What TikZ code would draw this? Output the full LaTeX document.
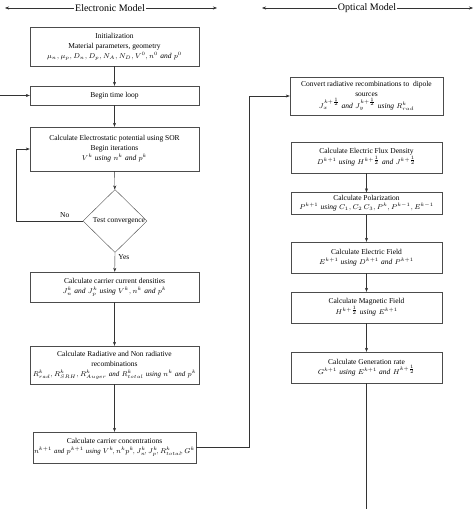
\documentclass[tikz,border=0pt]{standalone}
\usepackage{fontspec}
\setmainfont{Liberation Serif}
\usetikzlibrary{shapes.geometric,arrows.meta}

\newcommand{\mw}[1]{\;\mathit{#1}\;}

\tikzset{
  box/.style={draw=black!70, minimum height=31pt, align=center, inner sep=1pt,
    font=\fontsize{7.5}{10}\selectfont},
  elbox/.style={box, minimum width=169pt},
  opbox/.style={box, minimum width=151pt},
  line/.style={draw=black!80, -{Stealth[length=4pt,width=3pt]}},
  head/.style={font=\fontsize{10}{12}\selectfont, fill=white, inner sep=1pt}
}

\begin{document}
\begin{tikzpicture}[x=1pt,y=1pt]
            \useasboundingbox (0,0) rectangle (474,509);

            % Headers
            \node[head] (elhead) at (110,501) {Electronic Model};
            \node[head] (ophead) at (367,501) {Optical Model};
            \coordinate (elL) at (5,501);
            \coordinate (elR) at (217,501);
            \coordinate (opL) at (262,501);
            \coordinate (opR) at (473,501);
            \draw[line] (elhead.west) -- (elL);
            \draw[line] (elhead.east) -- (elR);
            \draw[line] (ophead.west) -- (opL);
            \draw[line] (ophead.east) -- (opR);

            % Electronic model
            \node[elbox, minimum height=39pt] (init) at (114.5,462.5)
                {Initialization\\Material parameters, geometry\\
                 $\mu_n, \mu_p, D_n, D_p, N_A, N_D, V^0, n^0\mw{and}p^0$};
            \node[elbox, minimum height=19pt] (loop) at (114.5,413.5) {Begin time loop};
            \node[elbox, minimum height=44pt] (sor) at (114.5,360)
                {Calculate Electrostatic potential using SOR\\Begin iterations\\
                 $V^k\mw{using}n^k\mw{and}p^k$};
            \node[draw=black!70, diamond, minimum width=64pt, minimum height=63pt,
                  inner sep=0pt] (conv) at (115,288) {};
            \node[font=\fontsize{7.5}{9.5}\selectfont] (convtxt) at (119,288) {Test convergence};
            \node[elbox, minimum height=30pt] (curr) at (114.5,222)
                {Calculate carrier current densities\\
                 $J_n^k\mw{and}J_p^k\mw{using}V^k, n^k\mw{and}p^k$};
            \node[elbox, minimum height=38pt] (rec) at (114.5,144)
                {Calculate Radiative and Non radiative\\recombinations\\
                 \fontsize{7}{9}\selectfont
                 $R_{rad}^k, R_{SRH}^k, R_{Auger}^k\mw{and}R_{total}^k\mw{using}n^k\mw{and}p^k$};
            \node[box, minimum width=163pt] (conc) at (114.5,61.5)
                {Calculate carrier concentrations\\
                 \fontsize{6.8}{9}\selectfont
                 $n^{k+1}\mw{and}p^{k+1}\mw{using}V^k\!, n^k p^k\!, J_n^k\!, J_p^k\!, R_{total}^k\!, G^k$};

            \coordinate (tin) at (0,413.5);
            \coordinate (back) at (16,288);
            \coordinate (bus) at (249,61.5);

            \draw[line] (init) -- (loop);
            \draw[line] (tin) -- (loop);
            \draw[line] (loop) -- (sor);
            \draw[line] (sor) -- (conv);
            \draw[line] (conv.west) -- node[pos=0.27, above, font=\fontsize{7.5}{9}\selectfont] {No}
                (back) |- (sor.west);
            \draw[line] (conv.south) -- node[pos=0.25, right, font=\fontsize{7.5}{9}\selectfont] {Yes}
                (curr);
            \draw[line] (curr) -- (rec);
            \draw[line] (rec) -- (conc);

            % Optical model
            \node[box, minimum width=153pt, minimum height=38pt] (dip) at (366.5,413)
                {Convert radiative recombinations to\ \ dipole\\sources\\
                 $J_x^{k+\frac12}\mw{and}J_y^{k+\frac12}\mw{using}R_{rad}^k$};
            \node[opbox] (flux) at (366.5,351.5)
                {Calculate Electric Flux Density\\
                 $D^{k+1}\mw{using}H^{k+\frac12}\mw{and}J^{k+\frac12}$};
            \node[opbox, minimum height=22pt, font=\fontsize{7.5}{9}\selectfont] (pol) at (366.5,305.5)
                {Calculate Polarization\\
                 $P^{k+1}\mw{using}C_1, C_2\,C_3, P^k, P^{k-1}, E^{k-1}$};
            \node[opbox] (efield) at (366.5,251.5)
                {Calculate Electric Field\\
                 $E^{k+1}\mw{using}D^{k+1}\mw{and}P^{k+1}$};
            \node[opbox] (mfield) at (366.5,201.5)
                {Calculate Magnetic Field\\
                 $H^{k+\frac12}\mw{using}E^{k+1}$};
            \node[opbox] (gen) at (366.5,141.5)
                {Calculate Generation rate\\
                 $G^{k+1}\mw{using}E^{k+1}\mw{and}H^{k+\frac12}$};

            \coordinate (opout) at (366.5,0);

            \draw[line] (conc.east) -- (bus) |- (dip.west);
            \draw[line] (flux) -- (pol);
            \draw[line] (pol) -- (efield);
            \draw[line] (efield) -- (mfield);
            \draw[line] (mfield) -- (gen);
            \draw[draw=black!80] (gen) -- (opout);
\end{tikzpicture}
\end{document}
